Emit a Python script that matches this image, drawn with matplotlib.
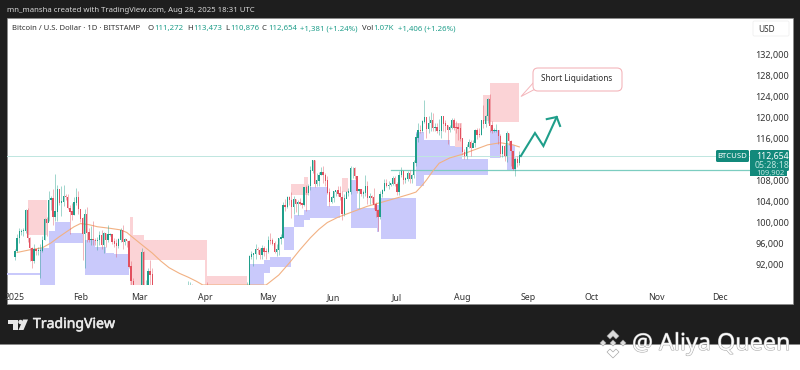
import matplotlib
matplotlib.use("Agg")
import matplotlib.pyplot as plt
import matplotlib.patheffects as pe
from matplotlib.patches import Rectangle, FancyBboxPatch, Polygon, Circle

plt.rcParams['font.family'] = ['Noto Sans', 'DejaVu Sans']

# daily candles Jan 1 - Aug 28 2025, thousands of USD
closes = [94.4, 96.9, 98.1, 98.2, 98.3, 102.1, 96.9, 95.0, 92.5, 94.7, 94.5, 94.5, 94.5, 96.5, 100.5, 99.8, 104.1, 104.5, 101.0, 102.0, 106.1, 103.7, 103.9, 104.8, 104.7, 102.6, 102.0, 101.3, 103.7, 104.7, 102.4,
          100.6, 97.7, 101.4, 97.9, 96.6, 96.6, 96.5, 96.4, 96.5, 97.4, 95.7, 97.8, 96.6, 97.5, 97.6, 96.2, 95.8, 95.5, 96.6, 98.3, 96.1, 96.6, 96.3, 91.5, 88.7, 84.3, 84.7, 84.4,
          86.0, 94.2, 86.1, 87.2, 90.6, 89.9, 86.7, 86.2, 80.7, 78.8, 82.9, 83.7, 81.1, 83.9, 84.3, 82.6, 84.0, 83.2, 86.8, 84.1, 84.0, 83.8, 86.0, 87.3, 87.5, 86.9, 87.2, 84.3, 82.4, 82.6, 82.5,
          85.2, 82.5, 83.1, 83.8, 83.5, 78.2, 79.2, 76.3, 82.6, 79.6, 84.0, 85.3, 83.6, 84.5, 83.7, 84.0, 84.9, 84.5, 85.0, 85.2, 87.5, 93.4, 93.7, 93.9, 94.7, 94.6, 93.8, 94.9, 94.3, 94.2,
          96.5, 96.4, 95.9, 94.3, 94.7, 96.8, 97.0, 103.2, 102.9, 104.6, 104.1, 102.8, 104.2, 103.5, 103.7, 103.5, 103.2, 106.5, 105.6, 106.8, 109.7, 111.7, 107.3, 107.8, 108.9, 109.4, 108.9, 107.8, 105.6, 103.9, 104.6,
          105.7, 105.9, 105.4, 104.7, 101.6, 104.4, 105.6, 105.8, 110.2, 110.2, 108.7, 105.9, 106.1, 105.4, 105.6, 106.8, 104.5, 104.8, 104.6, 103.3, 102.1, 100.9, 105.3, 106.0, 107.3, 106.9, 107.0, 107.3, 108.3, 107.2,
          105.7, 108.9, 109.6, 108.0, 108.2, 109.2, 108.2, 108.9, 111.3, 116.0, 117.5, 117.4, 119.1, 119.8, 117.7, 118.8, 119.3, 117.9, 117.9, 117.3, 117.4, 120.0, 118.7, 118.3, 117.6, 117.9, 119.4, 118.0, 117.9, 117.8, 115.8,
          113.3, 112.5, 114.2, 115.1, 114.1, 115.0, 117.5, 116.6, 116.5, 119.3, 118.7, 120.1, 123.3, 118.3, 117.4, 117.4, 117.5, 116.3, 112.9, 114.3, 112.5, 116.9, 115.4, 113.5, 110.1, 111.8, 111.3, 112.65]
highs = [94.9, 97.8, 98.9, 98.7, 98.8, 102.5, 102.7, 97.2, 95.3, 95.8, 94.9, 95.3, 95.9, 97.3, 100.7, 100.9, 105.9, 105.0, 106.3, 109.2, 107.0, 106.3, 106.8, 107.0, 105.3, 105.4, 103.2, 103.7, 104.8, 106.4, 106.0,
         102.0, 100.9, 102.5, 102.8, 98.8, 99.2, 100.1, 96.9, 97.2, 98.3, 98.5, 98.1, 98.0, 99.4, 97.9, 97.7, 97.0, 96.7, 97.0, 98.8, 99.5, 96.9, 96.6, 96.5, 92.5, 89.3, 87.0, 85.1,
         86.5, 95.0, 94.4, 88.9, 91.3, 92.8, 91.3, 86.9, 86.5, 84.0, 83.5, 84.3, 84.3, 85.2, 84.7, 85.0, 84.7, 84.1, 87.4, 87.4, 84.8, 84.5, 86.4, 88.7, 88.5, 88.2, 87.8, 87.5, 84.6, 83.5, 83.9,
         85.6, 88.5, 83.9, 84.7, 84.2, 83.8, 81.2, 80.9, 83.5, 82.7, 84.3, 85.9, 86.0, 85.8, 86.4, 85.5, 85.4, 85.1, 85.6, 85.3, 88.5, 93.8, 94.5, 94.0, 95.8, 95.3, 95.0, 95.6, 95.4, 95.0,
         97.4, 97.9, 96.9, 96.3, 95.9, 97.0, 97.8, 103.8, 104.3, 104.9, 104.9, 105.7, 105.0, 104.3, 104.2, 104.5, 103.7, 106.6, 107.0, 107.2, 110.7, 111.9, 111.9, 109.4, 109.5, 110.4, 110.7, 109.3, 108.8, 106.4, 105.0,
         105.9, 106.0, 106.8, 106.8, 105.9, 105.4, 106.0, 106.4, 110.6, 110.4, 110.4, 108.5, 106.2, 106.2, 106.1, 108.9, 107.8, 105.5, 105.2, 106.5, 103.9, 102.4, 106.0, 106.3, 108.1, 108.2, 107.8, 107.5, 108.8, 108.8,
         107.6, 109.8, 110.5, 109.9, 108.6, 109.7, 110.0, 109.2, 111.9, 116.9, 118.9, 118.4, 119.4, 123.2, 120.0, 120.1, 120.9, 120.8, 118.9, 118.9, 119.6, 120.2, 120.2, 119.5, 118.5, 118.4, 119.8, 119.8, 119.2, 118.8, 118.9,
         116.0, 114.0, 114.8, 115.8, 115.7, 115.7, 117.7, 117.9, 117.9, 119.5, 122.2, 120.3, 123.6, 124.4, 119.3, 118.0, 118.6, 117.6, 116.8, 114.6, 114.8, 117.3, 117.0, 115.6, 113.6, 112.4, 112.5, 113.5]
lows = [92.8, 94.2, 96.0, 97.5, 97.3, 97.9, 96.1, 92.5, 91.2, 92.2, 93.8, 93.7, 89.3, 94.3, 96.5, 97.3, 100.2, 102.3, 99.5, 100.1, 100.1, 103.2, 101.2, 103.0, 104.1, 102.5, 97.8, 100.3, 101.3, 103.3, 101.6,
        100.0, 92.8, 91.2, 96.1, 96.2, 95.7, 95.6, 95.6, 94.7, 95.6, 94.9, 94.1, 95.3, 96.2, 97.3, 95.9, 95.2, 93.4, 95.0, 96.2, 94.9, 95.7, 95.2, 91.3, 86.1, 82.4, 82.8, 78.3,
        84.0, 85.0, 85.1, 81.5, 86.9, 87.9, 84.7, 85.8, 80.0, 77.5, 76.6, 82.2, 79.9, 81.1, 83.9, 82.2, 82.5, 81.2, 82.5, 83.7, 83.2, 83.6, 83.5, 85.5, 86.3, 86.3, 85.9, 81.6, 81.6, 81.6, 81.3,
        82.4, 82.1, 81.7, 81.6, 82.4, 77.2, 74.5, 76.2, 74.6, 78.4, 79.0, 83.2, 83.1, 83.6, 83.0, 83.1, 84.2, 84.2, 84.2, 83.9, 85.2, 87.1, 92.9, 91.7, 92.9, 93.9, 92.9, 92.9, 93.5, 92.9,
        94.1, 95.9, 95.7, 94.1, 93.5, 93.7, 95.9, 96.9, 102.1, 102.7, 103.2, 100.8, 101.5, 102.0, 101.4, 103.2, 102.6, 103.0, 102.1, 105.1, 106.1, 109.3, 106.7, 106.8, 106.8, 108.9, 107.5, 106.8, 105.3, 103.1, 103.7,
        103.8, 104.9, 104.9, 104.2, 100.4, 101.1, 104.6, 105.0, 105.3, 108.4, 108.2, 105.6, 102.7, 104.9, 104.5, 105.0, 103.5, 103.5, 103.6, 102.4, 100.9, 98.2, 100.5, 104.7, 105.9, 106.6, 106.3, 106.8, 107.1, 106.8,
        105.2, 105.1, 108.6, 107.3, 107.4, 107.8, 107.5, 107.5, 108.3, 110.6, 115.2, 116.9, 117.2, 118.9, 116.0, 117.0, 117.4, 117.4, 117.3, 116.9, 116.5, 116.0, 117.3, 117.1, 114.8, 117.2, 117.8, 117.5, 116.9, 115.7, 115.5,
        112.7, 112.0, 112.0, 114.1, 112.6, 114.2, 114.3, 115.9, 116.1, 116.5, 118.0, 118.1, 118.9, 117.2, 117.0, 117.1, 117.2, 114.8, 112.4, 112.4, 111.7, 111.4, 114.6, 110.7, 109.9, 108.7, 110.5, 110.9]
first_open = 93.4

# long side (lavender) zones: start day, end day, top, bottom
lav_start = [-4, 12, 16, 19, 26, 33, 38, 43, 47, 111, 118, 121, 127.5, 132, 133, 137, 140, 148, 159, 162, 171.5, 173.5, 190, 194, 205, 212, 225, 233]
lav_end = [12, 18, 19, 26, 32, 38, 43, 47, 54, 118, 121, 131, 132, 137, 137, 140, 148, 154, 162, 171.5, 172.5, 190, 194, 206, 212, 224, 230, 237]
lav_top = [90.3, 95, 98.2, 100, 97.9, 96.6, 95.2, 94.1, 93.9, 92, 92.8, 93.3, 99, 101.3, 101.3, 102.3, 106.7, 103.05, 108, 102.7, 103.2, 104.57, 117.1, 115.6, 114.5, 112, 117.5, 114.7]
lav_bottom = [89.9, 88, 88, 96, 96, 89.9, 89.9, 89.9, 89.9, 88, 90.3, 91.4, 94.7, 99.1, 99.1, 100.4, 100.76, 100.76, 98.86, 98.86, 98.1, 96.76, 106.9, 108.95, 108.95, 108.95, 112.2, 109.9]

# short side (pink) zones
pink_start = [6, 54.5, 56, 61, 90, 90, 131, 137, 155, 208.5, 222, 225]
pink_end = [15, 56, 61, 90, 91, 110, 139, 139, 158, 212, 225, 239]
pink_top = [104.2, 101, 97.5, 96.6, 96.6, 89.7, 107.24, 108.57, 108.4, 118.86, 124.2, 126.48]
pink_bottom = [97.5, 88, 88, 92.8, 88, 88, 105.14, 106.2, 105.71, 114.29, 119.24, 119.05]

# moving average
ma_days = [1, 7, 13, 17, 21, 25, 28, 31, 35, 39, 45, 50, 53, 56, 60, 65, 69, 73, 78, 82, 86, 89, 119, 125, 130, 135, 140, 144, 148, 153, 159, 167, 175, 182, 187, 190, 193, 195, 198, 201, 206, 212, 218, 224, 230, 236, 239]
ma_vals = [94.2, 94.7, 95.1, 96, 97.2, 98.3, 99.1, 99.7, 99.5, 99.1, 98.8, 98.5, 98, 97, 95.7, 94.1, 92.6, 91.3, 90.2, 89.5, 88.7, 88, 88, 89.9, 92.2, 94.7, 97, 98.6, 99.9, 100.9, 101.8, 103, 103.9, 104.7, 105.3, 105.7, 107, 108, 109.7, 111.2, 112.2, 112.9, 113.8, 114.7, 115.1, 114.7, 114.3]

arrow_days = [239.7, 246.4, 250.4, 256.7]
arrow_vals = [112.57, 116.95, 114.48, 120]
head_days = [252, 256.7, 258.3]
head_vals = [119.6, 120, 118.3]

last_price = 112.654
support_price = 109.9
support_start = 178

month_days = [0, 31, 59, 90, 120, 151, 181, 212, 243, 273, 304, 334]
month_labels = ['2025', 'Feb', 'Mar', 'Apr', 'May', 'Jun', 'Jul', 'Aug', 'Sep', 'Oct', 'Nov', 'Dec']
price_ticks = [92, 96, 100, 104, 108, 116, 120, 124, 128, 132]
price_labels = ['92,000', '96,000', '100,000', '104,000', '108,000', '116,000', '120,000', '124,000', '128,000', '132,000']

GREEN = '#1f9e8a'
RED = '#e2505f'
DARK = '#1e1e1e'
TXT = '#333333'

fig = plt.figure(figsize=(8, 3.7), dpi=100, facecolor=DARK)
W, H = 800, 370


def px_rect(x0, y0, x1, y1):
    return [x0 / W, 1 - y1 / H, (x1 - x0) / W, (y1 - y0) / H]


fig.add_artist(Rectangle((7 / W, 1 - 304 / H), 786 / W, 286 / H, transform=fig.transFigure, fc='white', ec='#8a8a8a', lw=0.5, zorder=-2))
fig.add_artist(Rectangle((0, 0), 1, 26 / H, transform=fig.transFigure, fc='white', ec='none', zorder=-2))
fig.add_artist(Rectangle((0, 25 / H), 1, 1 / H, transform=fig.transFigure, fc='#8a8a8a', ec='none', zorder=-2))

ax = fig.add_axes(px_rect(7, 18, 750, 285), facecolor='none')
ax.set_xlim(-3.79, 348.3)
ax.set_ylim(88, 138.86)
for s in ax.spines.values():
    s.set_visible(False)

for s, e, t, b in zip(lav_start, lav_end, lav_top, lav_bottom):
    ax.fill_between([s, e], b, t, color='#c9c9fb', lw=0, zorder=1)
for s, e, t, b in zip(pink_start, pink_end, pink_top, pink_bottom):
    ax.fill_between([s, e], b, t, color='#fbd3d6', lw=0, zorder=1)

ax.axhline(last_price, color='#bfe6e0', lw=0.7, zorder=2)
ax.plot([support_start, 349], [support_price] * 2, color='#7ccdc0', lw=0.9, zorder=2)

ax.plot(ma_days, ma_vals, color='#f2b183', lw=0.8, zorder=3)

opens = [first_open] + closes[:-1]
days = list(range(len(closes)))
colors = [GREEN if c >= o else RED for o, c in zip(opens, closes)]
ax.vlines(days, lows, highs, colors=colors, lw=0.5, alpha=0.6, zorder=4)
ax.bar(days, [abs(c - o) + 0.12 for o, c in zip(opens, closes)], bottom=[min(o, c) for o, c in zip(opens, closes)],
       width=0.62, color=colors, lw=0, zorder=5)

ax.plot(arrow_days, arrow_vals, color=GREEN, lw=1.5, zorder=6, solid_joinstyle='miter')
ax.plot(head_days, head_vals, color=GREEN, lw=1.5, zorder=6, solid_joinstyle='miter')

ax.set_xticks(month_days, month_labels, fontsize=6.3, color=TXT)
ax.set_yticks(price_ticks, price_labels, fontsize=6.5, color=TXT)
ax.yaxis.tick_right()
ax.tick_params(axis='both', length=0)
ax.tick_params(axis='x', pad=6)
ax.tick_params(axis='y', pad=4)

# overlay in pixels for the labels, callout and branding
top = fig.add_axes([0, 0, 1, 1], facecolor='none')
top.set_xlim(0, W)
top.set_ylim(H, 0)
top.axis('off')

top.text(7, 10.5, 'mn_mansha created with TradingView.com, Aug 28, 2025 18:31 UTC', color='#d8d8d8', fontsize=5.6, va='center')

top.text(12, 28.5, 'Bitcoin / U.S. Dollar · 1D · BITSTAMP', color=TXT, fontsize=5.5, va='center')
legend_x = [148, 154, 187, 193, 225, 230, 262, 268, 300, 362, 373, 398]
legend_txt = ['O', '111,272', 'H', '113,473', 'L', '110,876', 'C', '112,654', '+1,381 (+1.24%)', 'Vol', '1.07K', '+1,406 (+1.26%)']
legend_col = [TXT, GREEN, TXT, GREEN, TXT, GREEN, TXT, GREEN, GREEN, TXT, GREEN, GREEN]
for x, s, c in zip(legend_x, legend_txt, legend_col):
    top.text(x, 28.5, s, color=c, fontsize=5.6, va='center')

top.add_patch(FancyBboxPatch((753, 21), 36, 15, boxstyle='round,pad=0,rounding_size=1.5', fc='white', ec='#f0f0f0', lw=0.6))
top.text(758, 29, 'USD', color=TXT, fontsize=6, va='center')

top.add_patch(FancyBboxPatch((716, 150), 33, 12, boxstyle='round,pad=0,rounding_size=1.5', fc='#12897b', ec='none'))
top.text(732.5, 156, 'BTCUSD', color='white', fontsize=5.6, va='center', ha='center', fontweight='bold')
top.add_patch(Rectangle((750, 170), 37, 6, fc='#12897b', ec='none'))
top.text(756, 173, '109,902', color='#bfe6e0', fontsize=5.5, va='center')
top.add_patch(FancyBboxPatch((750, 150), 39, 21, boxstyle='round,pad=0,rounding_size=1.5', fc='#12897b', ec='none'))
top.text(756, 156, '112,654', color='white', fontsize=6.3, va='center', fontweight='bold')
top.text(755, 166, '05:28:18', color='#bfe6e0', fontsize=6.3, va='center')

top.add_patch(Polygon([(541, 86), (521, 96.5), (534, 82)], closed=True, fc='white', ec='#f4b6bb', lw=0.7))
top.add_patch(FancyBboxPatch((533, 68), 89, 23, boxstyle='round,pad=0,rounding_size=5', fc='white', ec='#f4b6bb', lw=0.8))
top.add_patch(Rectangle((533.5, 81), 3, 5.5, fc='white', ec='none'))
top.text(577, 78.5, 'Short Liquidations', color='#2a2a2a', fontsize=5.9, va='center', ha='center', fontweight='bold')

# TradingView logo
top.add_patch(Polygon([(8, 319.5), (18, 319.5), (18, 330), (13, 330), (13, 324), (8, 324)], closed=True, fc='#e8e8e8', ec='none'))
top.add_patch(Circle((20.5, 322), 2.2, fc='#e8e8e8', ec='none'))
top.add_patch(Polygon([(23, 319.5), (28, 319.5), (23.5, 330), (18.5, 330)], closed=True, fc='#e8e8e8', ec='none'))
top.text(33, 324.5, 'TradingView', color='#e8e8e8', fontsize=10.1, va='center',
         path_effects=[pe.withStroke(linewidth=0.4, foreground='#e8e8e8')])

# watermark
for pts in ([(613, 330), (619, 336), (616, 339), (613, 336), (610, 339), (607, 336)],
            [(613, 340), (616, 343), (613, 346), (610, 343)],
            [(603, 340), (606, 343), (603, 346), (600, 343)],
            [(623, 340), (626, 343), (623, 346), (620, 343)],
            [(613, 358), (607, 352), (610, 349), (613, 352), (616, 349), (619, 352)]):
    top.add_patch(Polygon(pts, closed=True, fc='white', ec='#9a9a9a', lw=0.5, alpha=0.85))
top.text(632, 344, '@ Aliya Queen', color='white', fontsize=16.8, va='center', alpha=0.9,
         path_effects=[pe.withStroke(linewidth=0.7, foreground='#9a9a9a')])

fig.savefig('out.png', dpi=100, facecolor=DARK)
